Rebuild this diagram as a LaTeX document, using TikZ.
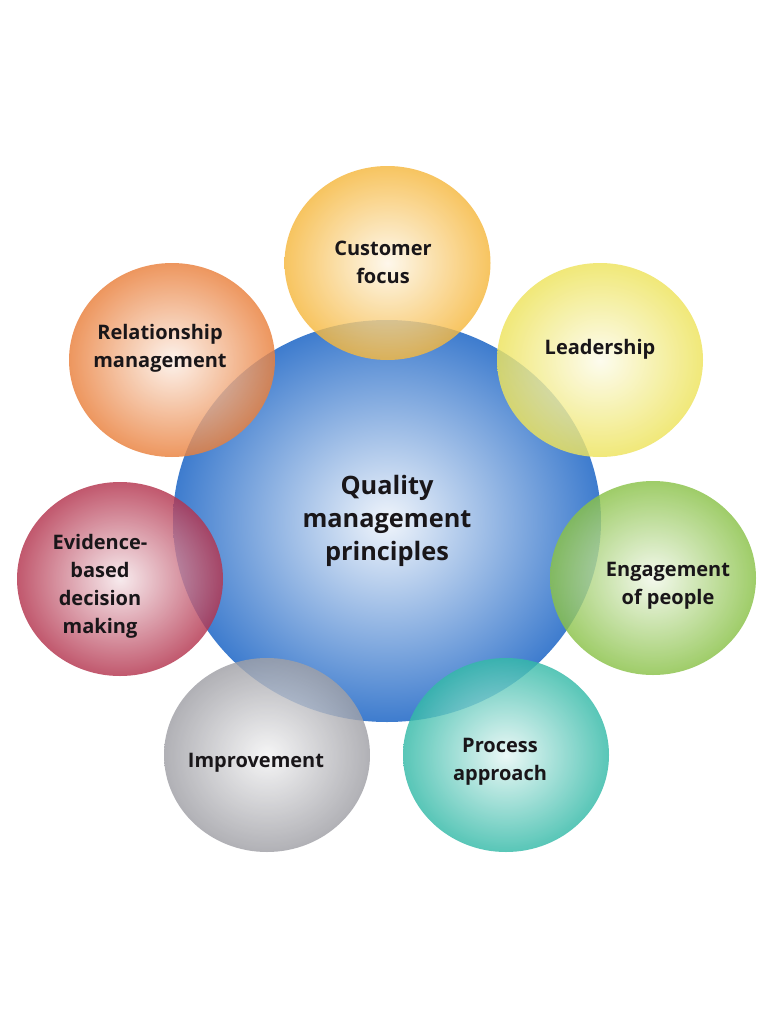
\documentclass[tikz,border=0pt]{standalone}
\usepackage{fontspec}
\setmainfont{Open Sans}
\usetikzlibrary{shapes.geometric}
\definecolor{cblue}{RGB}{62,124,206}
\definecolor{ccust}{RGB}{246,184,62}
\definecolor{clead}{RGB}{238,228,92}
\definecolor{ceng}{RGB}{138,194,72}
\definecolor{cproc}{RGB}{52,186,168}
\definecolor{cimpr}{RGB}{160,160,166}
\definecolor{cevid}{RGB}{180,52,78}
\definecolor{crel}{RGB}{234,128,60}
\definecolor{ctext}{RGB}{25,22,25}
\tikzset{
  bubble/.style={ellipse, draw=none, minimum width=154.5pt, minimum height=145.5pt,
    inner sep=0pt, fill opacity=0.82, inner color=#1!12!white, outer color=#1},
  lbl/.style={font=\bfseries\fontsize{15pt}{21pt}\selectfont, text=ctext, align=center, inner sep=0pt},
  bigl/.style={font=\bfseries\fontsize{19pt}{24.75pt}\selectfont, text=ctext, align=center, inner sep=0pt}
}
\begin{document}
\begin{tikzpicture}[x=0.75pt,y=-0.75pt]
\useasboundingbox (0,0) rectangle (768,1024);
\fill[white] (0,0) rectangle (768,1024);
% central
\node[ellipse, minimum width=321pt, minimum height=301.5pt, inner sep=0pt,
      inner color=white!92!cblue, outer color=cblue] (center) at (387,521) {};
% outer bubbles
\node[bubble=ccust] (cust) at (387.5,263) {};
\node[bubble=clead] (lead) at (600,360) {};
\node[bubble=ceng]  (eng)  at (653,578) {};
\node[bubble=cproc] (proc) at (506,755) {};
\node[bubble=cimpr] (impr) at (267,755) {};
\node[bubble=cevid] (evid) at (120,579) {};
\node[bubble=crel]  (rel)  at (172,360) {};
% labels
\node[bigl] (tcenter) at (387,521) {Quality\\management\\principles};
\node[lbl] (tcust) at (383,262) {Customer\\focus};
\node[lbl] (tlead) at (600,349) {Leadership};
\node[lbl] (teng)  at (668,586) {Engagement\\of people};
\node[lbl] (tproc) at (500,762) {Process\\approach};
\node[lbl] (timpr) at (256,763) {Improvement};
\node[lbl] (tevid) at (100,586) {Evidence-\\based\\decision\\making};
\node[lbl] (trel)  at (160,348) {Relationship\\management};
\end{tikzpicture}
\end{document}
